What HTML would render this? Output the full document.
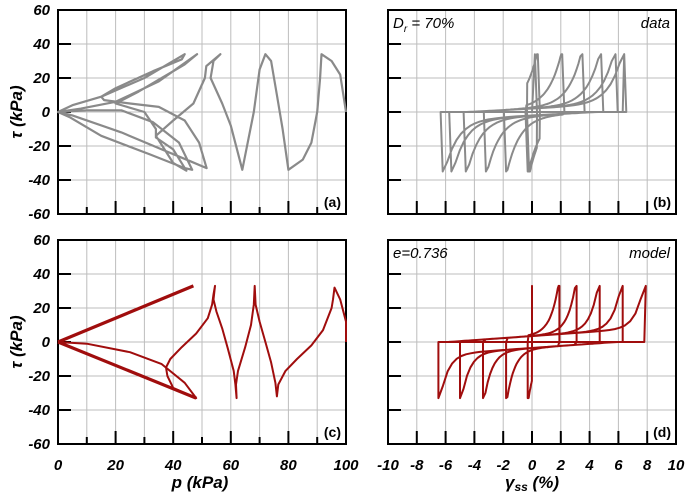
<!DOCTYPE html>
<html><head><meta charset="utf-8"><style>
body{margin:0;background:#fff}
svg{display:block}
text{font-family:"Liberation Sans",sans-serif}
</style></head><body>
<svg id="c" width="685" height="494" xmlns="http://www.w3.org/2000/svg"></svg>
<script>
// ---- data ----
const aPath = [[0,0],[5,4],[15,9],[30,20],[44,34],[43,31],[33,24],[20,14],[15,9],[16,7],[25,5],[35,3],[44,-5],[49,-18],[51.6,-33],[46,-29],[36,-22],[22,-12],[5,-2],[0,0],[10,1],[22,1],[33,-6],[42,-18],[46.6,-34],[44,-33],[32,-25],[15,-14],[4,-3],[0,0],[8,2],[20,6],[35,18],[48.3,34],[44,28],[36,20],[28,12],[20,5],[30,0],[34,-10],[34,-15],[40,-22],[44.6,-34.5],[40,-30],[34,-14],[40,-5],[47,5],[51,20],[51.5,27],[56.4,34],[54,30],[53,20],[57,5],[60,-8],[64,-34],[68,0],[70,25],[72,34],[74,30],[76,10],[78,-10],[80,-34],[85,-28],[88,-18],[90,0],[91,20],[91.5,34],[95,30],[98,22],[100,0]];
const cLineUp = [[0,0],[47,33]];
const cLineDn = [[0,0],[48,-33]];
const cPath = [[0,0],[10,-1],[25,-6],[36,-13],[44,-24],[48,-33],[44,-30],[40,-27],[38,-20],[37.5,-15],[39,-10],[43,-3],[48,5],[52,14],[53.5,22],[54,28],[54.5,33],[54,25],[55,18],[57,8],[59,-4],[61,-17],[61.6,-25],[62,-33],[61.8,-25],[62.5,-17],[65,-3],[67,10],[68,22],[68.3,33],[68.6,22],[70,12],[72,0],[74,-12],[75.5,-24],[76,-32],[76.5,-25],[79,-17],[83,-10],[88,-2],[92,7],[95,20],[95.5,25],[96,32],[98,25],[100,12],[100,0]];
const bPos = [0.2,0.4,2.1,3.5,4.8,5.8,6.4];
const bNeg = [-0.2,-0.3,-1.8,-3.2,-4.6,-5.6,-6.2];
const bPeakPos = 34, bPeakNeg = -35;
const dPos = [0,1.9,3.1,4.7,6.3,7.9];
const dNeg = [-0.3,-1.8,-3.4,-5.0,-6.5];
const dPeakPos = 33, dPeakNeg = -33;
const pTicks = [0,20,40,60,80,100];
const gTicks = [-10,-8,-6,-4,-2,0,2,4,6,8,10];
const tauTicks = [60,40,20,0,-20,-40,-60];

const svg = document.getElementById('c');
const NS = 'http://www.w3.org/2000/svg';
function mk(tag, at, parent){const e=document.createElementNS(NS,tag);for(const k in at)e.setAttribute(k,at[k]);(parent||svg).appendChild(e);return e;}

const panels = {
 a:{x0:58,x1:346,y0:10,y1:214,xmin:0,xmax:100},
 b:{x0:388,x1:676,y0:10,y1:214,xmin:-10,xmax:10},
 c:{x0:58,x1:346,y0:240,y1:444,xmin:0,xmax:100},
 d:{x0:388,x1:676,y0:240,y1:444,xmin:-10,xmax:10}
};
function sx(P,v){return P.x0+(v-P.xmin)/(P.xmax-P.xmin)*(P.x1-P.x0);}
function sy(P,v){return P.y1-(v+60)/120*(P.y1-P.y0);}

function frame(key,label){
 const P=panels[key];
 const g=mk('g',{});
 
 
 const step=(P.xmax-P.xmin)/10;
 for(let i=1;i<10;i++){const x=sx(P,P.xmin+i*step);
  const l=mk('line',{x1:x,x2:x,y1:P.y0,y2:P.y1,stroke:'#bdbdbd','stroke-width':1},g);
  
  const tl=(key==='a'||key==='c')?(i%2===0?13:7):13;
  mk('line',{x1:x,x2:x,y1:P.y1,y2:P.y1-tl,stroke:'#000','stroke-width':2},g);}
 for(let v=-40;v<=40;v+=20){const y=sy(P,v);
  const l=mk('line',{x1:P.x0,x2:P.x1,y1:y,y2:y,stroke:'#bdbdbd','stroke-width':1},g);
  
  mk('line',{x1:P.x0,x2:P.x0+13,y1:y,y2:y,stroke:'#000','stroke-width':2},g);}
 const r=mk('rect',{x:P.x0,y:P.y0,width:P.x1-P.x0,height:P.y1-P.y0,fill:'none',stroke:'#000','stroke-width':2},g);
 
 const t=mk('text',{x:P.x1-5,y:P.y1-7,'text-anchor':'end','font-size':14,'font-weight':'bold'},g);
 t.textContent=label;
 
 return g;
}
function poly(P,pts,color,w,name){
 const d=pts.map((p,i)=>(i?'L':'M')+sx(P,p[0]).toFixed(1)+','+sy(P,p[1]).toFixed(1)).join('');
 const e=mk('path',{d:d,fill:'none',stroke:color,'stroke-width':w,'stroke-linejoin':'round'});
 
 
 return e;
}
function loops(pos,neg,pp,pn,w,slope,off,drop){
 const pts=[[0,0],[pos[0],pp]];
 const n=neg.length;
 for(let k=0;k<n;k++){
  const gR=pos[Math.min(k,pos.length-1)];
  const gL=neg[k];
  pts.push([gR+drop,0]);
  for(let t=1;t<=40;t++){const g=gR+drop+(gL-gR-drop)*t/40;
   pts.push([g,Math.max(pn,Math.min(0,-off+slope*g)+pn*Math.exp((gL-g)/w))]);}
  pts.push([gL,pn]);pts.push([gL-drop,0]);
  const gN=pos[Math.min(k+1,pos.length-1)];
  for(let t=1;t<=40;t++){const g=gL-drop+(gN-gL+drop)*t/40;
   pts.push([g,Math.min(pp,Math.max(0,off+slope*g)+pp*Math.exp((g-gN)/w))]);}
  pts.push([gN,pp]);
 }
 const last=pos[pos.length-1];
 pts.push([last-0.1,0]);pts.push([neg[neg.length-1],0]);
 return pts;
}

frame('a','(a)');frame('b','(b)');frame('c','(c)');frame('d','(d)');
poly(panels.a,aPath,'#8a8a8a',2.2,'data-stress-path');
poly(panels.b,loops(bPos,bNeg,bPeakPos,bPeakNeg,0.9,0.45,2,0.15),'#8a8a8a',2,'data-stress-strain-loops');
poly(panels.c,cLineUp,'#a00d0d',3.2,'model-stress-path-first-load');
poly(panels.c,cLineDn,'#a00d0d',3.2,'model-stress-path-first-unload');
poly(panels.c,cPath,'#a00d0d',2,'model-stress-path');
poly(panels.d,loops(dPos,dNeg,dPeakPos,dPeakNeg,0.55,0.6,3.5,0),'#a00d0d',2,'model-stress-strain-loops');

function txt(x,y,s,name,at){const t=mk('text',Object.assign({x:x,y:y,'font-size':15,'font-weight':'bold','font-style':'italic','text-anchor':'middle'},at||{}));t.textContent=s;return t;}
for(const key of ['a','c']){const P=panels[key];
 for(const v of tauTicks){txt(P.x0-8,sy(P,v)+5,String(v),'y-tick-label',{'text-anchor':'end'});}}
for(const v of pTicks){txt(sx(panels.c,v),470,String(v),'x-tick-label');}
for(const v of gTicks){txt(sx(panels.d,v),470,String(v),'x-tick-label');}
txt(22,112,'τ (kPa)','y-axis-title',{'font-size':17,transform:'rotate(-90 22 112)'});
txt(22,342,'τ (kPa)','y-axis-title',{'font-size':17,transform:'rotate(-90 22 342)'});
txt(200,488,'p (kPa)','x-axis-title',{'font-size':17});
const gt=txt(532,488,'','x-axis-title',{'font-size':17});
gt.innerHTML='γ<tspan font-size="12" dy="3">ss</tspan><tspan dy="-3"> (%)</tspan>';
txt(393,28,'','annotation-dr',{'text-anchor':'start','font-weight':'normal','font-size':15}).innerHTML='D<tspan font-size="10" dy="4">r</tspan><tspan dy="-4"> = 70%</tspan>';
txt(670,28,'data','annotation-data',{'text-anchor':'end','font-weight':'normal','font-size':15});
txt(393,258,'e=0.736','annotation-e',{'text-anchor':'start','font-weight':'normal','font-size':15});
txt(670,258,'model','annotation-model',{'text-anchor':'end','font-weight':'normal','font-size':15});
</script>
</body></html>
